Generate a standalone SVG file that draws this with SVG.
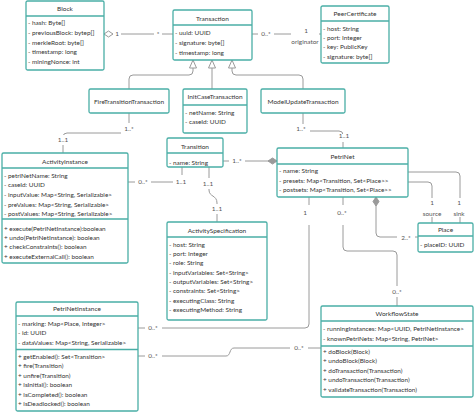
<svg xmlns="http://www.w3.org/2000/svg" width="474" height="412" viewBox="0 0 474 412">
<style>
.box{fill:#fff;stroke:#4aaea6;stroke-width:1.3}
.div{stroke:#4aaea6;stroke-width:1.3}
.t{font-family:Lato,"Liberation Sans",sans-serif;font-size:6.5px;fill:#333;text-anchor:middle}
.a{font-family:Lato,"Liberation Sans",sans-serif;font-size:6.4px;fill:#333}
.c{fill:none;stroke:#9a9a9a;stroke-width:1}
.l{font-family:Lato,"Liberation Sans",sans-serif;font-size:6.4px;fill:#555;text-anchor:middle}
.bg{fill:#fff}
</style>
<defs>
<marker id="tri" markerUnits="userSpaceOnUse" markerWidth="10" markerHeight="10" viewBox="0 0 10 10" refX="9" refY="5" orient="auto">
<path d="M1,1.5 L9,5 L1,8.5 Z" fill="#fff" stroke="#9a9a9a" stroke-width="1"/>
</marker>
<marker id="dia-o" markerUnits="userSpaceOnUse" markerWidth="10" markerHeight="8" viewBox="0 0 10 8" refX="0.5" refY="4" orient="auto">
<path d="M0.5,4 L5,1 L9.5,4 L5,7 Z" fill="#fff" stroke="#9a9a9a" stroke-width="1"/>
</marker>
<marker id="dia-f" markerUnits="userSpaceOnUse" markerWidth="10" markerHeight="8" viewBox="0 0 10 8" refX="0.5" refY="4" orient="auto">
<path d="M0.5,4 L5,1 L9.5,4 L5,7 Z" fill="#9a9a9a" stroke="#9a9a9a" stroke-width="1"/>
</marker>
</defs>

<g id="connectors">
<path class="c" d="M104,34 H173" marker-start="url(#dia-o)"/>
<path class="c" d="M252,34 H321"/>
<path class="c" d="M129,89 V79 Q129,75 133,75 H189 Q193,75 193,71 V60" marker-end="url(#tri)"/>
<path class="c" d="M212,89 V60" marker-end="url(#tri)"/>
<path class="c" d="M303,89 V79 Q303,75 299,75 H236 Q232,75 232,71 V60" marker-end="url(#tri)"/>
<path class="c" d="M129,113 V129 Q129,133 125,133 H67 Q63,133 63,137 V153"/>
<path class="c" d="M128,182 H178 Q182,182 182,178 V167"/>
<path class="c" d="M277,161 H223" marker-start="url(#dia-f)"/>
<path class="c" d="M209,167 V190 C209,197 217,195 217,203 V222"/>
<path class="c" d="M303,113 V127 Q303,131 307,131 H339 Q343,131 343,135 V148"/>
<path class="c" d="M408,172 H456 Q460,172 460,176 V223"/>
<path class="c" d="M408,182 H428 Q432,182 432,186 V223"/>
<path class="c" d="M376,197 V233 Q376,237 380,237 H418" marker-start="url(#dia-f)"/>
<path class="c" d="M343,197 V247 Q343,251 347,251 H393 Q397,251 397,255 V306"/>
<path class="c" d="M138,328 H305 Q309,328 309,324 V197"/>
<path class="c" d="M138,356 H226 C231,356 229,348 234,348 H321"/>
<!-- label backgrounds -->
<rect class="bg" x="113" y="29" width="8" height="10"/>
<rect class="bg" x="154" y="29" width="8" height="10"/>
<rect class="bg" x="258" y="29" width="16" height="10"/>
<rect class="bg" x="291" y="25" width="28" height="21"/>
<rect class="bg" x="121" y="123" width="16" height="11"/>
<rect class="bg" x="55" y="135" width="16" height="10"/>
<rect class="bg" x="135" y="177" width="16" height="10"/>
<rect class="bg" x="173" y="175" width="16" height="12"/>
<rect class="bg" x="229" y="156" width="16" height="10"/>
<rect class="bg" x="200" y="178" width="16" height="11"/>
<rect class="bg" x="209" y="204" width="16" height="10"/>
<rect class="bg" x="293" y="124" width="17" height="11"/>
<rect class="bg" x="335" y="134" width="17" height="8"/>
<rect class="bg" x="418" y="198" width="26" height="19"/>
<rect class="bg" x="448" y="198" width="22" height="19"/>
<rect class="bg" x="397" y="232" width="18" height="10"/>
<rect class="bg" x="299" y="205" width="13" height="20"/>
<rect class="bg" x="333" y="205" width="18" height="20"/>
<rect class="bg" x="389" y="286" width="16" height="11"/>
<rect class="bg" x="145" y="323" width="17" height="10"/>
<rect class="bg" x="145" y="351" width="17" height="10"/>
<rect class="bg" x="290" y="343" width="18" height="10"/>
<!-- labels -->
<text class="l" x="117" y="36.3">1</text>
<text class="l" x="158" y="36.3">*</text>
<text class="l" x="266" y="36.3">0..*</text>
<text class="l" x="306" y="32.5">1</text>
<text class="l" x="305" y="43.5">originator</text>
<text class="l" x="129" y="131.3">1..*</text>
<text class="l" x="63" y="142.3">1..1</text>
<text class="l" x="143" y="184.3">0..*</text>
<text class="l" x="181" y="184.3">1..1</text>
<text class="l" x="237" y="163.3">1..*</text>
<text class="l" x="208" y="185.6">1..1</text>
<text class="l" x="217" y="211.3">1..1</text>
<text class="l" x="301" y="131.3">1..*</text>
<text class="l" x="344" y="138">1..1</text>
<text class="l" x="432" y="205">1</text>
<text class="l" x="432" y="215.5">source</text>
<text class="l" x="459" y="205">1</text>
<text class="l" x="459" y="215.5">sink</text>
<text class="l" x="406" y="239.5">2..*</text>
<text class="l" x="305" y="215">1</text>
<text class="l" x="342" y="215">0..*</text>
<text class="l" x="397" y="293.6">0..*</text>
<text class="l" x="153" y="330.3">0..*</text>
<text class="l" x="153" y="358.3">0..*</text>
<text class="l" x="299" y="350">0..*</text>
</g>

<g id="Block">
<rect class="box" x="26" y="1" width="78" height="69" rx="1.5"/>
<line class="div" x1="26" y1="16" x2="104" y2="16"/>
<text class="t" x="65" y="11.3">Block</text>
<text class="a" x="28" y="25.3">- hash: Byte[]</text>
<text class="a" x="28" y="35">- previousBlock: bytep[]</text>
<text class="a" x="28" y="44.6">- merkleRoot: byte[]</text>
<text class="a" x="28" y="54.2">- timestamp: long</text>
<text class="a" x="28" y="63.8">- miningNonce: int</text>
</g>

<g id="Transaction">
<rect class="box" x="173" y="10" width="79" height="50" rx="1.5"/>
<line class="div" x1="173" y1="25" x2="252" y2="25"/>
<text class="t" x="212.5" y="21.3">Transaction</text>
<text class="a" x="175" y="35.3">- uuid: UUID</text>
<text class="a" x="175" y="45">- signature: byte[]</text>
<text class="a" x="175" y="54.6">- timestamp: long</text>
</g>

<g id="PeerCertificate">
<rect class="box" x="321" y="6" width="68" height="57" rx="1.5"/>
<line class="div" x1="321" y1="21" x2="389" y2="21"/>
<text class="t" x="355" y="16.3">PeerCertificate</text>
<text class="a" x="323" y="30.6">- host: String</text>
<text class="a" x="323" y="40">- port: Integer</text>
<text class="a" x="323" y="49.4">- key: PublicKey</text>
<text class="a" x="323" y="59">- signature: byte[]</text>
</g>

<g id="FireTransitionTransaction">
<rect class="box" x="89" y="89" width="80" height="24" rx="1.5"/>
<text class="t" x="129" y="103.5">FireTransitionTransaction</text>
</g>

<g id="InitCaseTransaction">
<rect class="box" x="183" y="89" width="64" height="44" rx="1.5"/>
<line class="div" x1="183" y1="105" x2="247" y2="105"/>
<text class="t" x="215" y="99">InitCaseTransaction</text>
<text class="a" x="185" y="114.6">- netName: String</text>
<text class="a" x="185" y="124">- caseId: UUID</text>
</g>

<g id="ModelUpdateTransaction">
<rect class="box" x="261" y="89" width="84" height="24" rx="1.5"/>
<text class="t" x="303" y="103.5">ModelUpdateTransaction</text>
</g>

<g id="ActivityInstance">
<rect class="box" x="2" y="153" width="126" height="110" rx="1.5"/>
<line class="div" x1="2" y1="168" x2="128" y2="168"/>
<line class="div" x1="2" y1="219" x2="128" y2="219"/>
<text class="t" x="65" y="164.3">ActivityInstance</text>
<text class="a" x="4" y="178">- petriNetName: String</text>
<text class="a" x="4" y="187.3">- caseId: UUID</text>
<text class="a" x="4" y="197">- inputValue: Map&lt;String, Serializable&gt;</text>
<text class="a" x="4" y="206.8">- preValues: Map&lt;String, Serializable&gt;</text>
<text class="a" x="4" y="216.3">- postValues: Map&lt;String, Serializable&gt;</text>
<text class="a" x="4" y="230.6">+ execute(PetriNetInstance):boolean</text>
<text class="a" x="4" y="240">+ undo(PetriNetInstance): boolean</text>
<text class="a" x="4" y="249.3">+ checkConstraints(): boolean</text>
<text class="a" x="4" y="258.8">+ executeExternalCall(): boolean</text>
</g>

<g id="Transition">
<rect class="box" x="167" y="138" width="56" height="29" rx="1.5"/>
<line class="div" x1="167" y1="153" x2="223" y2="153"/>
<text class="t" x="195" y="149">Transition</text>
<text class="a" x="169" y="164.5">- name: String</text>
</g>

<g id="PetriNet">
<rect class="box" x="277" y="148" width="131" height="49" rx="1.5"/>
<line class="div" x1="277" y1="164" x2="408" y2="164"/>
<text class="t" x="342.5" y="159">PetriNet</text>
<text class="a" x="279" y="173.3">- name: String</text>
<text class="a" x="279" y="183">- presets: Map&lt;Transition, Set&lt;Place&gt;&gt;</text>
<text class="a" x="279" y="192.3">- postsets: Map&lt;Transition, Set&lt;Place&gt;&gt;</text>
</g>

<g id="Place">
<rect class="box" x="418" y="223" width="55" height="29" rx="1.5"/>
<line class="div" x1="418" y1="236" x2="473" y2="236"/>
<text class="t" x="445.5" y="232.3">Place</text>
<text class="a" x="420" y="247.3">- placeID: UUID</text>
</g>

<g id="ActivitySpecification">
<rect class="box" x="167" y="222" width="100" height="98" rx="1.5"/>
<line class="div" x1="167" y1="237" x2="267" y2="237"/>
<text class="t" x="217" y="233.3">ActivitySpecification</text>
<text class="a" x="169" y="246.6">- host: String</text>
<text class="a" x="169" y="256">- port: Integer</text>
<text class="a" x="169" y="265.3">- role: String</text>
<text class="a" x="169" y="274.6">- inputVariables: Set&lt;String&gt;</text>
<text class="a" x="169" y="284">- outputVariables: Set&lt;String&gt;</text>
<text class="a" x="169" y="293.3">- constraints: Set&lt;String&gt;</text>
<text class="a" x="169" y="302.6">- executingClass: String</text>
<text class="a" x="169" y="312.2">- executingMethod: String</text>
</g>

<g id="PetriNetInstance">
<rect class="box" x="16" y="302" width="122" height="109" rx="1.5"/>
<line class="div" x1="16" y1="316" x2="138" y2="316"/>
<line class="div" x1="16" y1="349.5" x2="138" y2="349.5"/>
<text class="t" x="77" y="311.3">PetriNetInstance</text>
<text class="a" x="18" y="325.6">- marking: Map&lt;Place, Integer&gt;</text>
<text class="a" x="18" y="335.3">- id: UUID</text>
<text class="a" x="18" y="344.6">- dataValues: Map&lt;String, Serializable&gt;</text>
<text class="a" x="18" y="359">+ getEnabled(): Set&lt;Transition&gt;</text>
<text class="a" x="18" y="368.3">+ fire(Transition)</text>
<text class="a" x="18" y="377.6">+ unfire(Transition)</text>
<text class="a" x="18" y="387.3">+ isInitial(): boolean</text>
<text class="a" x="18" y="396.6">+ isCompleted(): boolean</text>
<text class="a" x="18" y="406.3">+ isDeadlocked(): boolean</text>
</g>

<g id="WorkflowState">
<rect class="box" x="321" y="306" width="152" height="91" rx="1.5"/>
<line class="div" x1="321" y1="321" x2="473" y2="321"/>
<line class="div" x1="321" y1="346" x2="473" y2="346"/>
<text class="t" x="397" y="316.3">WorkflowState</text>
<text class="a" x="323" y="330.6">- runningInstances: Map&lt;UUID, PetriNetInstance&gt;</text>
<text class="a" x="323" y="340.6">- knownPetriNets: Map&lt;String, PetriNet&gt;</text>
<text class="a" x="323" y="354">+ doBlock(Block)</text>
<text class="a" x="323" y="363.3">+ undoBlock(Block)</text>
<text class="a" x="323" y="373">+ doTransaction(Transaction)</text>
<text class="a" x="323" y="382.3">+ undoTransaction(Transaction)</text>
<text class="a" x="323" y="391.6">+ validateTransaction(Transaction)</text>
</g>
</svg>
